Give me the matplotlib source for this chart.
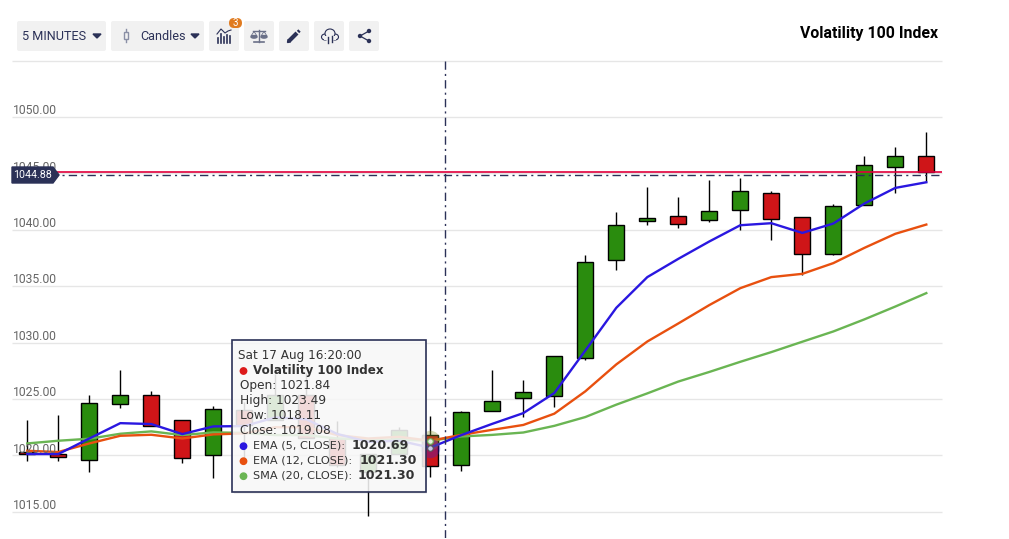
import matplotlib
matplotlib.use("Agg")
import matplotlib.pyplot as plt
from matplotlib.patches import FancyBboxPatch, Polygon, Rectangle, Circle, Ellipse

# ==============================
# 1. Data
# ==============================
opens = [1020.28, 1020.09, 1019.56, 1024.52, 1025.40, 1023.10, 1020.00, 1023.99, 1023.10, 1025.32,
         1021.51, 1018.55, 1020.09, 1021.84, 1019.14, 1023.93, 1025.09, 1025.27, 1028.66, 1037.34,
         1040.80, 1041.24, 1040.89, 1041.77, 1043.28, 1041.15, 1037.87, 1042.22, 1045.58, 1046.56]
closes = [1020.12, 1019.82, 1024.61, 1025.40, 1022.57, 1019.73, 1024.08, 1022.69, 1025.32, 1021.51,
          1019.14, 1020.09, 1022.21, 1019.08, 1023.85, 1024.82, 1025.62, 1028.82, 1037.16, 1040.44,
          1041.06, 1040.53, 1041.68, 1043.46, 1040.97, 1037.87, 1042.13, 1045.76, 1046.56, 1045.11]
highs = [1023.13, 1023.57, 1025.35, 1027.56, 1025.70, 1023.10, 1024.37, 1024.70, 1027.20, 1027.30,
         1023.04, 1020.09, 1022.51, 1023.49, 1023.96, 1027.60, 1026.70, 1028.82, 1037.73, 1041.62,
         1043.84, 1042.95, 1044.46, 1044.64, 1043.48, 1041.15, 1042.33, 1046.59, 1047.38, 1048.71]
lows = [1019.53, 1019.53, 1018.55, 1024.22, 1022.57, 1019.35, 1018.02, 1019.60, 1023.10, 1021.51,
        1019.00, 1014.65, 1020.09, 1018.11, 1018.58, 1023.93, 1023.37, 1024.26, 1028.45, 1036.43,
        1040.41, 1040.15, 1040.68, 1039.97, 1039.08, 1036.01, 1037.76, 1042.22, 1043.25, 1044.22]

ema5 = [1020.12, 1020.12, 1021.50, 1022.86, 1022.78, 1021.89, 1022.57, 1022.60, 1023.37, 1023.20,
        1021.90, 1021.20, 1021.30, 1020.69, 1021.80, 1022.80, 1023.75, 1025.53, 1029.30, 1033.09,
        1035.81, 1037.43, 1038.97, 1040.41, 1040.59, 1039.73, 1040.56, 1042.33, 1043.72, 1044.22]
ema12 = [1020.41, 1020.30, 1021.06, 1021.74, 1021.83, 1021.50, 1021.86, 1021.95, 1022.50, 1022.50,
         1021.80, 1021.50, 1021.65, 1021.30, 1021.82, 1022.27, 1022.70, 1023.70, 1025.68, 1028.07,
         1030.10, 1031.70, 1033.33, 1034.83, 1035.81, 1036.10, 1037.05, 1038.40, 1039.65, 1040.47]
sma20 = [1021.06, 1021.30, 1021.48, 1021.92, 1022.13, 1021.80, 1022.04, 1022.00, 1021.80, 1021.80,
         1021.50, 1021.40, 1021.40, 1021.30, 1021.68, 1021.82, 1022.03, 1022.62, 1023.40, 1024.50,
         1025.50, 1026.55, 1027.40, 1028.30, 1029.16, 1030.08, 1030.99, 1032.06, 1033.20, 1034.39]

y_ticks = [1015, 1020, 1025, 1030, 1035, 1040, 1045, 1050, 1055]
y_labels = ["1015.00", "1020.00", "1025.00", "1030.00", "1035.00", "1040.00", "1045.00", "1050.00"]

last_price = 1045.11
cross_price = 1044.88
cross_x = 13.47
hover = 13

tooltip_lines = ["Open: 1021.84", "High: 1023.49", "Low: 1018.11", "Close: 1019.08"]
tooltip_series = [("EMA (5, CLOSE):", "1020.69", 352), ("EMA (12, CLOSE):", "1021.30", 360),
                  ("SMA (20, CLOSE):", "1021.30", 358)]

# ==============================
# 2. Colours and figure
# ==============================
GREEN = "#2a8c0e"
RED = "#cf1518"
BLUE = "#2a17e0"
ORANGE = "#e8500f"
LIGHT = "#6ab553"
NAVY = "#2b3157"
BTN = "#f1f1f1"

plt.rcParams["font.family"] = ["Roboto", "DejaVu Sans"]

W, H = 1009, 539
fig = plt.figure(figsize=(W / 100, H / 100), dpi=100, facecolor="white")
ax = fig.add_axes([12 / W, 0.6 / H, 930 / W, (H - 61.3) / H])
ax.set_xlim(-0.494, 29.506)
ax.set_ylim(1012.64, 1055)
ax.axis("off")

# ==============================
# 3. Grid and labels
# ==============================
ax.hlines(y_ticks, -0.494, 29.506, color="#e6e6e6", lw=1, zorder=1, clip_on=False)
for tick, label in zip(y_ticks, y_labels):
    ax.annotate(label, (-0.494, tick), xytext=(1, -0.2), textcoords="offset pixels",
                fontsize=8.7, color="#666666", va="bottom", ha="left", zorder=6)

# ==============================
# 4. Candles and indicators
# ==============================
xs = list(range(len(opens)))
colors = [GREEN if c >= o else RED for o, c in zip(opens, closes)]
bottoms = [min(o, c) for o, c in zip(opens, closes)]
heights = [abs(c - o) for o, c in zip(opens, closes)]
ax.vlines(xs, lows, highs, color="black", lw=1, zorder=2)
ax.bar(xs, heights, bottom=bottoms, width=0.516, color=colors, edgecolor="black", lw=1, zorder=3)

for values, color in [(sma20, LIGHT), (ema12, ORANGE), (ema5, BLUE)]:
    ax.plot(xs, values, color=color, lw=1.7, zorder=4, solid_joinstyle="round")

# hover halos and markers on the active candle
ax.plot([hover], [ema12[hover] + 0.1], "o", ms=14, color="#8a9a30", alpha=0.35, mew=0, zorder=5)
ax.plot([hover], [ema5[hover]], "o", ms=14, color="#3a20d0", alpha=0.35, mew=0, zorder=5)
ax.plot([hover], [ema12[hover]], "o", ms=4, mfc="#e8efe0", mec="#6ab553", mew=0.8, zorder=5)
ax.plot([hover], [ema5[hover]], "o", ms=4, mfc="#c9c6ee", mec="#555", mew=0.8, zorder=5)

# ==============================
# 5. Price lines and crosshair
# ==============================
ax.axhline(last_price, color="#e0003c", lw=1.2, zorder=5)
ax.plot([-0.494, 29.4], [cross_price, cross_price], color=NAVY, lw=1, ls=(0, (6, 3, 1.5, 3)), zorder=5)
ax.axvline(cross_x, color=NAVY, lw=1, ls=(0, (6, 3, 1.5, 3)), zorder=5)

# ==============================
# 6. Overlay in pixel coordinates
# ==============================
ui = fig.add_axes([0, 0, 1, 1], facecolor="none")
ui.set_xlim(0, W)
ui.set_ylim(H, 0)
ui.axis("off")

# tag on the crosshair price
ui.add_patch(Polygon([(12, 167), (53, 167), (59, 175), (53, 183), (12, 183)], color=NAVY, zorder=7))
ui.text(13.3, 175.3, "1044.88", color="white", fontsize=7.7, va="center", ha="left", zorder=8)

# toolbar buttons
for x0, x1 in [(17, 106), (111, 204), (209, 239), (244, 274), (279, 309), (314, 344), (349, 379)]:
    ui.add_patch(FancyBboxPatch((x0 + 1, 22), x1 - x0 - 2, 28, boxstyle="round,pad=1,rounding_size=2",
                                fc=BTN, ec="none", zorder=2))
ui.text(22, 36, "5 MINUTES", color=NAVY, fontsize=9.1, va="center", ha="left")
ui.text(140, 36, "Candles", color=NAVY, fontsize=9.1, va="center", ha="left")
for cx in [97, 195]:
    ui.add_patch(Polygon([(cx - 4, 34), (cx + 4, 34), (cx, 38)], color=NAVY, zorder=3))

# candle icon
ui.plot([126, 126], [29, 42], color="#8a8fa5", lw=1, zorder=3)
ui.add_patch(Rectangle((124, 32), 4, 7, fc=BTN, ec="#8a8fa5", lw=1, zorder=4))

# indicators icon
for bx, top in [(218, 38), (221, 34), (224, 37), (227, 35), (230, 36)]:
    ui.plot([bx, bx], [top, 43], color=NAVY, lw=1.2, zorder=3)
ui.plot([217, 221, 225, 228, 231], [34, 29, 33, 31, 30], color=NAVY, lw=0.8, zorder=3)
ui.add_patch(FancyBboxPatch((230, 19), 11, 8, boxstyle="round,pad=1,rounding_size=5",
                            fc="#e07b20", ec="none", zorder=5))
ui.text(235.5, 22.8, "3", color="white", fontsize=7, ha="center", va="center", zorder=6)

# scales icon
ui.plot([259, 259], [30, 42], color="#6a7088", lw=1, zorder=3)
ui.plot([253, 265], [31, 31], color="#6a7088", lw=1, zorder=3)
ui.plot([254, 264], [42, 42], color="#6a7088", lw=1.2, zorder=3)
for cx in [254, 264]:
    ui.add_patch(Polygon([(cx - 3, 36), (cx + 3, 36), (cx, 31.5)], fc="none", ec="#6a7088", lw=0.6, zorder=3))
    ui.add_patch(Ellipse((cx, 36.8), 6, 2.6, color="#6a7088", zorder=3))

# pencil icon
ui.plot([289, 297], [41, 33], color=NAVY, lw=3.0, solid_capstyle="butt", zorder=3)
ui.add_patch(Polygon([(288, 39.5), (290.5, 42), (287.5, 42.5)], color=NAVY, zorder=3))
ui.plot([298, 299.5], [32, 30.5], color=NAVY, lw=2.4, solid_capstyle="butt", zorder=3)

# cloud icon
ui.add_patch(Ellipse((325, 37), 7, 6, fc="none", ec=NAVY, lw=0.8, zorder=3))
ui.add_patch(Ellipse((335, 37), 7, 6, fc="none", ec=NAVY, lw=0.8, zorder=3))
ui.add_patch(Ellipse((330, 33.5), 10, 9, fc=BTN, ec=NAVY, lw=0.8, zorder=3))
ui.add_patch(Rectangle((324, 35.5), 12, 4.5, fc=BTN, ec="none", zorder=4))
ui.plot([328, 328], [37, 43], color=NAVY, lw=1, zorder=5)
ui.plot([332, 332], [36, 42], color=NAVY, lw=1, zorder=5)

# share icon
ui.plot([369, 360, 369], [31, 36, 41], color=NAVY, lw=0.9, zorder=3)
for sx, sy in [(369, 31), (360, 36), (369, 41)]:
    ui.add_patch(Circle((sx, sy), 1.5, color=NAVY, zorder=3))

# chart title
ui.text(938, 33.5, "Volatility 100 Index", color="black", fontsize=11.4, fontweight="bold",
        ha="right", va="center")

# ==============================
# 7. Tooltip
# ==============================
TXT = "#333333"
TT = ["DejaVu Sans"]
ui.add_patch(Rectangle((234, 342), 193, 152, fc="#000000", alpha=0.05, ec="none", zorder=8))
ui.add_patch(Rectangle((232, 340), 193.5, 152, fc="#f9f9f9", alpha=0.87, ec="none", zorder=9))
ui.add_patch(Rectangle((232, 340), 193.5, 152, fc="none", ec=NAVY, lw=1.2, zorder=10))

ui.text(238.5, 355, "Sat 17 Aug 16:20:00", color=TXT, fontsize=8.65, family=TT, va="center", zorder=11)
ui.add_patch(Circle((243.5, 371), 3.2, color="#dc1a1a", zorder=11))
ui.text(253, 370.7, "Volatility 100 Index", color=TXT, fontsize=8.6, family=TT, fontweight="bold",
        va="center", zorder=11)

for i, line in enumerate(tooltip_lines):
    ui.text(239.5, 385.7 + 15 * i, line, color=TXT, fontsize=8.7, family=TT, va="center", zorder=11)

dot_colors = [BLUE, ORANGE, LIGHT]
for i, (name, value, vx) in enumerate(tooltip_series):
    yy = 445.7 + 15 * i
    ui.add_patch(Circle((243.5, yy + 0.5), 3.2, color=dot_colors[i], zorder=11))
    ui.text(253, yy, name, color=TXT, fontsize=8.1, family=TT, va="center", zorder=11)
    ui.text(vx, yy, value, color=TXT, fontsize=9.05, family=TT, fontweight="bold", va="center",
            ha="left", zorder=11)

fig.savefig("out.png", dpi=100)
